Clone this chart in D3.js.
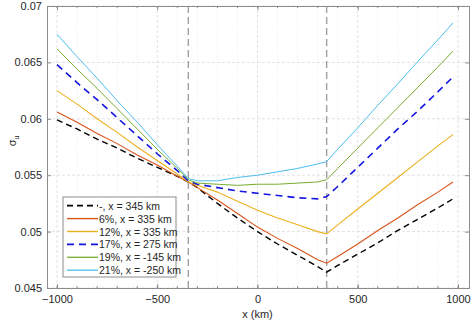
<!DOCTYPE html>
<html>
<head>
<meta charset="utf-8">
<script src="https://cdn.jsdelivr.net/npm/d3@7"></script>
<style>
  body { margin: 0; background: #fff; }
  text { font-family: "Liberation Sans", Arial, sans-serif; fill: #262626; }
</style>
</head>
<body>
<div id="chart-area"></div>
<script>

// distance along track (km)
const xKm = [-1000, -900, -800, -700, -600, -500, -400, -345, -300, -200, -100, 0,
  100, 200, 300, 345, 400, 500, 600, 700, 800, 900, 975];

const seriesNames = ['-, x = 345 km', '6%, x = 335 km', '12%, x = 335 km',
  '17%, x = 275 km', '19%, x = -145 km', '21%, x = -250 km'];

const sigmaBase = [0.0599, 0.0591, 0.0582, 0.0574, 0.0565, 0.0557, 0.0549, 0.0544, 0.0539, 0.0525, 0.0512, 0.0500,
  0.0489, 0.0479, 0.0469, 0.0464, 0.0470, 0.0480, 0.0490, 0.0501, 0.0511, 0.0521, 0.0529];
const sigma6 = [0.0606, 0.0597, 0.0587, 0.0578, 0.0568, 0.0559, 0.0549, 0.0544, 0.0539, 0.0528, 0.0516, 0.0504,
  0.0494, 0.0485, 0.0475, 0.0472, 0.0478, 0.0489, 0.0501, 0.0512, 0.0524, 0.0535, 0.0544];
const sigma12 = [0.0625, 0.0613, 0.0600, 0.0588, 0.0575, 0.0563, 0.0551, 0.0544, 0.0541, 0.0535, 0.0527, 0.0519,
  0.0512, 0.0506, 0.0500, 0.0498, 0.0506, 0.0520, 0.0534, 0.0548, 0.0562, 0.0576, 0.0586];
const sigma17 = [0.0648, 0.0632, 0.0617, 0.0601, 0.0585, 0.0569, 0.0554, 0.0545, 0.0542, 0.0539, 0.0536, 0.0534,
  0.0532, 0.0530, 0.0529, 0.0531, 0.0540, 0.0557, 0.0574, 0.0591, 0.0607, 0.0624, 0.0637];
const sigma19 = [0.0662, 0.0644, 0.0627, 0.0609, 0.0591, 0.0573, 0.0556, 0.0546, 0.0543, 0.0542, 0.0541, 0.0542,
  0.0542, 0.0543, 0.0544, 0.0546, 0.0556, 0.0574, 0.0592, 0.0610, 0.0628, 0.0646, 0.0660];
const sigma21 = [0.0675, 0.0655, 0.0636, 0.0616, 0.0597, 0.0577, 0.0558, 0.0547, 0.0545, 0.0545, 0.0548, 0.0550,
  0.0553, 0.0556, 0.0560, 0.0562, 0.0573, 0.0592, 0.0612, 0.0631, 0.0651, 0.0670, 0.0685];

const xTicks = [-1000, -500, 0, 500, 1000];
const yTicks = [0.045, 0.05, 0.055, 0.06, 0.065, 0.07];
const markerLines = [-345, 345];

const colors = ['#000000', '#D95319', '#EDB120', '#1515E0', '#77AC30', '#4DBEEE'];
const dashes = ['6,4', null, null, '7,5', null, null];
const widths = [1.4, 1.1, 1.1, 1.6, 1.0, 1.0];

const series = [sigmaBase, sigma6, sigma12, sigma17, sigma19, sigma21].map((vals, i) => ({
  name: seriesNames[i],
  values: vals.map((v, j) => ({ x: xKm[j], y: v }))
}));

const W = 474, H = 324;
const m = { left: 47, right: 5, top: 6, bottom: 36 };

const x = d3.scaleLinear().domain([-1050, 1055]).range([m.left, W - m.right]);
const y = d3.scaleLinear().domain([0.045, 0.07]).range([H - m.bottom, m.top]);

const svg = d3.select('#chart-area').append('svg')
  .attr('width', W)
  .attr('height', H);

// grid
svg.append('g')
  .selectAll('line')
  .data(d3.range(-1000, 1001, 100).filter(v => v % 500 !== 0))
  .enter().append('line')
    .attr('x1', d => x(d)).attr('x2', d => x(d))
    .attr('y1', y(0.045)).attr('y2', y(0.07))
    .attr('stroke', '#ececec')
    .attr('stroke-dasharray', '1,2');

svg.append('g')
  .selectAll('line')
  .data(xTicks)
  .enter().append('line')
    .attr('x1', d => x(d)).attr('x2', d => x(d))
    .attr('y1', y(0.045)).attr('y2', y(0.07))
    .attr('stroke', '#e2e2e2')
    .attr('stroke-dasharray', '3,2');

svg.append('g')
  .selectAll('line')
  .data(yTicks)
  .enter().append('line')
    .attr('x1', m.left).attr('x2', W - m.right)
    .attr('y1', d => y(d)).attr('y2', d => y(d))
    .attr('stroke', '#e2e2e2')
    .attr('stroke-dasharray', '3,2');

// vertical markers
svg.append('g')
  .selectAll('line')
  .data(markerLines)
  .enter().append('line')
    .attr('x1', d => x(d)).attr('x2', d => x(d))
    .attr('y1', y(0.045)).attr('y2', y(0.07))
    .attr('stroke', '#a0a0a0')
    .attr('stroke-width', 1.4)
    .attr('stroke-dasharray', '7,4');

// curves
const line = d3.line().x(d => x(d.x)).y(d => y(d.y));

svg.append('g')
  .selectAll('path')
  .data(series)
  .enter().append('path')
    .attr('d', d => line(d.values))
    .attr('fill', 'none')
    .attr('stroke', (d, i) => colors[i])
    .attr('stroke-width', (d, i) => widths[i])
    .attr('stroke-dasharray', (d, i) => dashes[i]);

// axes (ticks inward, box on)
const xMinor = d3.range(-1000, 1001, 100);
const axBottom = svg.append('g').attr('transform', `translate(0,${y(0.045)})`)
  .call(d3.axisBottom(x).tickValues(xTicks).tickSize(-4).tickPadding(7).tickFormat(d3.format('d')));
const axTop = svg.append('g').attr('transform', `translate(0,${y(0.07)})`)
  .call(d3.axisTop(x).tickValues(xTicks).tickSize(-4).tickFormat(''));
const axLeft = svg.append('g').attr('transform', `translate(${x(-1050)},0)`)
  .call(d3.axisLeft(y).tickValues(yTicks).tickSize(-4).tickPadding(5).tickFormat(d => String(+d.toFixed(3))));
const axRight = svg.append('g').attr('transform', `translate(${x(1055)},0)`)
  .call(d3.axisRight(y).tickValues(yTicks).tickSize(-4).tickFormat(''));

[axBottom, axTop].forEach(g => {
  g.selectAll('.minor').data(xMinor).enter().append('line')
    .attr('class', 'minor')
    .attr('x1', d => x(d)).attr('x2', d => x(d))
    .attr('y1', 0).attr('y2', g === axBottom ? -2 : 2)
    .attr('stroke', '#8c8c8c');
});

[axBottom, axTop, axLeft, axRight].forEach(g => {
  g.select('.domain').attr('stroke', '#8c8c8c');
  g.selectAll('.tick line').attr('stroke', '#8c8c8c');
  g.selectAll('text').attr('font-size', 11).attr('fill', '#262626')
    .style('font-family', '"Liberation Sans", Arial, sans-serif');
});

// labels
svg.append('text')
  .attr('x', x(0))
  .attr('y', 318)
  .attr('text-anchor', 'middle')
  .attr('font-size', 11)
  .text('x (km)');

const yl = svg.append('text')
  .attr('transform', `translate(16,${(y(0.045) + y(0.07)) / 2 - 6}) rotate(-90)`)
  .attr('text-anchor', 'middle')
  .attr('font-size', 11);
yl.append('tspan').text('σ');
yl.append('tspan').attr('font-size', 7).attr('dy', 3).text('u');

// legend
const lg = svg.append('g').attr('transform', 'translate(63,197)');
lg.append('rect')
  .attr('width', 113).attr('height', 80)
  .attr('fill', '#fff')
  .attr('stroke', '#8c8c8c');

const items = lg.selectAll('.item')
  .data(series)
  .enter().append('g')
    .attr('class', 'item')
    .attr('transform', (d, i) => `translate(0,${8.7 + i * 12.9})`);

items.append('line')
  .attr('x1', 4).attr('x2', 35)
  .attr('stroke', (d, i) => colors[i])
  .attr('stroke-width', (d, i) => widths[i] + 0.3)
  .attr('stroke-dasharray', (d, i) => dashes[i]);

items.append('text')
  .attr('x', 36)
  .attr('y', 4)
  .attr('font-size', 10.5)
  .text(d => d.name);

</script>
</body>
</html>
